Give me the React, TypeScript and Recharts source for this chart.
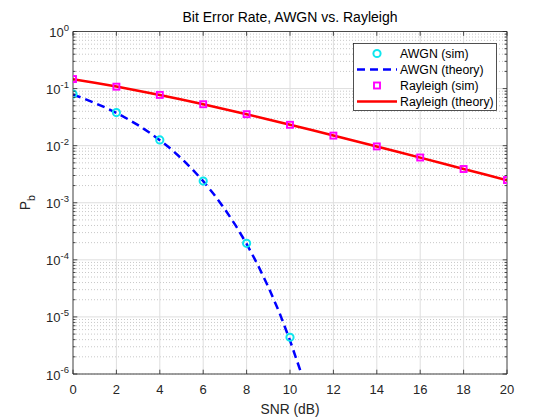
import React from 'react';
import { ComposedChart, Line, XAxis, YAxis, CartesianGrid, Legend } from 'recharts';

// simulated points (every 2 dB)
const awgnSimSnr = [0, 2, 4, 6, 8, 10];
const awgnSim = [0.08, 0.038, 0.0126, 0.0024, 0.000195, 4.4e-6];

// theory curve
const awgnTheorySnr = [0, 0.5, 1, 1.5, 2, 2.5, 3, 3.5, 4, 4.5, 5, 5.5, 6, 6.5, 7, 7.5, 8, 8.5, 9, 9.5, 10, 10.5, 11];
const awgnTheory = [
  0.0786, 0.0671, 0.056, 0.0464, 0.0375, 0.0296, 0.0229, 0.0172, 0.0125, 0.00882, 0.00595, 0.00386,
  0.00239, 0.0014, 0.00077, 0.000398, 0.000191, 8.4e-5, 3.36e-5, 1.22e-5, 3.87e-6, 1.08e-6, 2.6e-7,
];

const raySimSnr = [0, 2, 4, 6, 8, 10, 12, 14, 16, 18, 20];
const raySim = [0.147, 0.108, 0.0775, 0.0532, 0.0356, 0.0232, 0.015, 0.0097, 0.0062, 0.0039, 0.0025];

const rayTheorySnr = [0, 1, 2, 3, 4, 5, 6, 7, 8, 9, 10, 11, 12, 13, 14, 15, 16, 17, 18, 19, 20];
const rayTheory = [
  0.1464, 0.1267, 0.1085, 0.0919, 0.0771, 0.0642, 0.053, 0.0435, 0.0355, 0.0288, 0.0233,
  0.01876, 0.0151, 0.01208, 0.00967, 0.00773, 0.00617, 0.00492, 0.00391, 0.00312, 0.00248,
];

const xTicks = [0, 2, 4, 6, 8, 10, 12, 14, 16, 18, 20];
const yTicks = [1e-6, 1e-5, 1e-4, 1e-3, 1e-2, 1e-1, 1];
const yTickExps = ['-6', '-5', '-4', '-3', '-2', '-1', '0'];
const yMinorMults = [2, 3, 4, 5, 6, 7, 8, 9];

const toRows = (xs: number[], ys: number[]) => xs.map((snr, i) => ({ snr, pb: ys[i] }));

const yMinorTicks = yTicks.slice(0, -1).flatMap((d) => yMinorMults.map((m) => m * d));

// plot box (MATLAB default axes position)
const PL = 73;
const PR = 507;
const PT = 31.5;
const PB = 374;
const AX = '#262626';
const FONT = '"Liberation Sans", Arial, Helvetica, sans-serif';

const CYAN = '#10e6ee';
const BLUE = '#0000ff';
const MAGENTA = '#ff00ff';
const RED = '#ff0000';

const XTick = (props: any) => {
  const cx = props.payload?.coordinate ?? props.x;
  return (
    <g>
      <line x1={cx} x2={cx} y1={PB} y2={PB - 4.3} stroke={AX} strokeWidth={0.8} />
      <line x1={cx} x2={cx} y1={PT} y2={PT + 4.3} stroke={AX} strokeWidth={0.8} />
      <text x={cx} y={PB + 19.5} textAnchor="middle" fontSize={13} fill={AX} fontFamily={FONT}>
        {props.payload.value}
      </text>
    </g>
  );
};

const YTick = (props: any) => {
  const cy = props.payload?.coordinate ?? props.y;
  const exp = yTickExps[yTicks.indexOf(props.payload.value)] ?? '';
  return (
    <g>
      <line x1={PL} x2={PL + 4.3} y1={cy} y2={cy} stroke={AX} strokeWidth={0.8} />
      <line x1={PR} x2={PR - 4.3} y1={cy} y2={cy} stroke={AX} strokeWidth={0.8} />
      <text x={PL - 4} y={cy + 5.5} textAnchor="end" fontSize={13} fill={AX} fontFamily={FONT}>
        10
        <tspan dy={-6.5} fontSize={9.5}>{exp}</tspan>
      </text>
    </g>
  );
};

const MinorTick = (props: any) => {
  const cy = props.payload?.coordinate ?? props.y;
  return (
    <g>
      <line x1={PL} x2={PL + 2.5} y1={cy} y2={cy} stroke={AX} strokeWidth={0.8} />
      <line x1={PR} x2={PR - 2.5} y1={cy} y2={cy} stroke={AX} strokeWidth={0.8} />
    </g>
  );
};

const Square = (props: any) => {
  const { cx, cy, index } = props;
  if (cx == null || cy == null) return <g key={`sq-${index}`} />;
  return (
    <rect key={`sq-${index}`} x={cx - 3} y={cy - 3} width={6} height={6} fill="none" stroke={MAGENTA} strokeWidth={1.9} />
  );
};

const LegendBox = ({ payload }: any) => (
  <svg width={144} height={68} style={{ display: 'block' }}>
    <rect x={0.5} y={0.5} width={143} height={67} fill="#fff" stroke={AX} strokeWidth={0.8} />
    {(payload || []).map((entry: any, i: number) => {
      const cy = 10.5 + i * 16;
      let mark = null;
      if (entry.value === 'AWGN (sim)') {
        mark = <circle cx={24} cy={cy} r={3.6} fill="none" stroke={CYAN} strokeWidth={2} />;
      } else if (entry.value === 'AWGN (theory)') {
        mark = <line x1={4} x2={44} y1={cy} y2={cy} stroke={BLUE} strokeWidth={2.5} strokeDasharray="8 5" />;
      } else if (entry.value === 'Rayleigh (sim)') {
        mark = <rect x={21} y={cy - 3} width={6} height={6} fill="none" stroke={MAGENTA} strokeWidth={1.9} />;
      } else {
        mark = <line x1={4} x2={44} y1={cy} y2={cy} stroke={RED} strokeWidth={2.5} />;
      }
      return (
        <g key={entry.value}>
          {mark}
          <text x={47} y={cy + 4.3} fontSize={12.3} fill="#000" fontFamily={FONT}>
            {entry.value}
          </text>
        </g>
      );
    })}
  </svg>
);

const Y_LEFT_W = 40;
const Y_RIGHT_W = 20;
const X_TOP_H = 10;
const X_BOTTOM_H = 30;

export default function App() {
  return (
    <div style={{ position: 'absolute', left: 0, top: 0, width: 560, height: 420, background: '#fff', fontFamily: FONT }}>
      <ComposedChart
        width={560}
        height={420}
        margin={{
          top: PT - X_TOP_H,
          right: 560 - PR - Y_RIGHT_W,
          bottom: 420 - PB - X_BOTTOM_H,
          left: PL - Y_LEFT_W,
        }}
      >
        <XAxis
          xAxisId="x"
          type="number"
          dataKey="snr"
          domain={[0, 20]}
          ticks={xTicks}
          interval={0}
          height={X_BOTTOM_H}
          tickLine={false}
          axisLine={{ stroke: AX, strokeWidth: 0.8 }}
          tick={XTick}
          allowDataOverflow
        />
        <XAxis
          xAxisId="top"
          orientation="top"
          type="number"
          dataKey="snr"
          domain={[0, 20]}
          height={X_TOP_H}
          tick={false}
          tickLine={false}
          axisLine={{ stroke: AX, strokeWidth: 0.8 }}
        />
        <YAxis
          yAxisId="y"
          type="number"
          scale="log"
          domain={[1e-6, 1]}
          ticks={yTicks}
          interval={0}
          width={Y_LEFT_W}
          tickLine={false}
          axisLine={{ stroke: AX, strokeWidth: 0.8 }}
          tick={YTick}
          allowDataOverflow
        />
        <YAxis
          yAxisId="minor"
          orientation="right"
          type="number"
          scale="log"
          domain={[1e-6, 1]}
          ticks={yMinorTicks}
          interval={0}
          width={Y_RIGHT_W}
          tickLine={false}
          axisLine={{ stroke: AX, strokeWidth: 0.8 }}
          tick={MinorTick}
          allowDataOverflow
        />
        <CartesianGrid xAxisId="x" yAxisId="minor" vertical={false} stroke="#c8c8c8" strokeDasharray="1 2" />
        <CartesianGrid xAxisId="x" yAxisId="y" stroke="#dedede" />
        <Legend
          layout="horizontal"
          align="center"
          verticalAlign="middle"
          content={LegendBox}
          wrapperStyle={{ position: 'absolute', left: 353, top: 43, width: 144, height: 68 }}
        />
        <Line
          xAxisId="x"
          yAxisId="y"
          name="AWGN (sim)"
          data={toRows(awgnSimSnr, awgnSim)}
          dataKey="pb"
          stroke="none"
          dot={{ r: 3.6, stroke: CYAN, strokeWidth: 2, fill: 'none' }}
          activeDot={false}
          isAnimationActive={false}
        />
        <Line
          xAxisId="x"
          yAxisId="y"
          name="AWGN (theory)"
          data={toRows(awgnTheorySnr, awgnTheory)}
          dataKey="pb"
          stroke={BLUE}
          strokeWidth={2.5}
          strokeDasharray="8 5"
          dot={false}
          activeDot={false}
          isAnimationActive={false}
        />
        <Line
          xAxisId="x"
          yAxisId="y"
          name="Rayleigh (sim)"
          data={toRows(raySimSnr, raySim)}
          dataKey="pb"
          stroke="none"
          dot={Square}
          activeDot={false}
          isAnimationActive={false}
        />
        <Line
          xAxisId="x"
          yAxisId="y"
          name="Rayleigh (theory)"
          data={toRows(rayTheorySnr, rayTheory)}
          dataKey="pb"
          stroke={RED}
          strokeWidth={2.5}
          dot={false}
          activeDot={false}
          isAnimationActive={false}
        />
      </ComposedChart>
      <svg width={560} height={420} style={{ position: 'absolute', left: 0, top: 0, pointerEvents: 'none' }}>
        <text x={(PL + PR) / 2} y={22} textAnchor="middle" fontSize={14} fill="#000" fontFamily={FONT}>
          Bit Error Rate, AWGN vs. Rayleigh
        </text>
        <text x={(PL + PR) / 2} y={414} textAnchor="middle" fontSize={13.8} fill={AX} fontFamily={FONT}>
          SNR (dB)
        </text>
        <text transform="rotate(-90)" x={-(PT + PB) / 2} y={30} textAnchor="middle" fontSize={14} fill={AX} fontFamily={FONT}>
          P<tspan dy={5} fontSize={10.5}>b</tspan>
        </text>
      </svg>
    </div>
  );
}
